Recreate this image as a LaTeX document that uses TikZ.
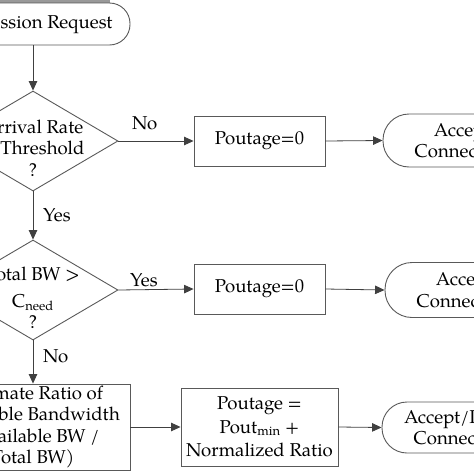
\documentclass[tikz,border=0pt]{standalone}
\usepackage{fontspec}
\setmainfont{TeX Gyre Pagella}
\usetikzlibrary{shapes.geometric,arrows.meta}
\begin{document}
\begin{tikzpicture}[x=1pt,y=-1pt,
  every node/.style={font=\fontsize{18.6}{21.5}\selectfont, text=black},
  box/.style={draw=black!65, line width=0.9pt, rectangle, inner sep=0pt, align=center},
  term/.style={box, rounded corners=#1},
  dia/.style={draw=black!65, line width=0.9pt, diamond, inner sep=0pt, minimum width=170pt, minimum height=100pt},
  txt/.style={align=center, inner sep=0pt},
  lbl/.style={inner sep=0pt, anchor=base west},
  conn/.style={draw=black!75, line width=0.8pt, -{Triangle[length=9.5pt,width=8.5pt]}},
]
\useasboundingbox (0,0) rectangle (474,474);
\clip (0,0) rectangle (474,474);
\fill[black!40] (0,0) rectangle (110,2.5);
% left column
\node[term=20.5pt, minimum width=194pt, minimum height=42pt] (start) at (33,24) {Admission Request};
\node[dia] (d1) at (33,141) {};
\node[txt] (d1t) at (33,148) {Arrival Rate\\< Threshold\\?};
\node[dia] (d2) at (33,290) {};
\node[txt] (d2t) at (33,298) {Total BW >\\[5pt]C\textsubscript{need}\\?};
\node[box, minimum width=194pt, minimum height=86pt] (est) at (33,427) {Estimate Ratio of\\Available Bandwidth\\(Available BW /\\Total BW)};
% middle column
\node[box, minimum width=131pt, minimum height=50pt] (p1) at (259.5,141) {Poutage=0};
\node[box, minimum width=131pt, minimum height=50pt] (p2) at (259.5,289) {Poutage=0};
\node[box, minimum width=157pt, minimum height=78pt] (p3) at (259.5,427) {Poutage =\\[2pt]Pout\textsubscript{min} +\\[2pt]Normalized Ratio};
% right column
\node[term=26pt, minimum width=158pt, minimum height=53pt] (t1) at (462,140.5) {Accept\\Connection};
\node[term=27pt, minimum width=158pt, minimum height=55pt] (t2) at (464,290) {Accept\\Connection};
\node[term=25pt, minimum width=158pt, minimum height=51pt] (t3) at (461,427.5) {Accept/Reject\\Connection};
% connectors
\draw[conn] (start.south) -- (d1.north);
\draw[conn] (d1.east) -- (p1.west);
\draw[conn] (p1.east) -- (t1.west);
\draw[conn] (d1.south) -- (d2.north);
\draw[conn] (d2.east) -- (p2.west);
\draw[conn] (p2.east) -- (t2.west);
\draw[conn] (d2.south) -- (est.north);
\draw[conn] (est.east) -- (p3.west);
\draw[conn] (p3.east) -- (t3.west);
% labels
\node[lbl] (lno1) at (132,129.5) {No};
\node[lbl] (lyes1) at (43,221) {Yes};
\node[lbl] (lyes2) at (130,286) {Yes};
\node[lbl] (lno2) at (43,362) {No};
\end{tikzpicture}
\end{document}
